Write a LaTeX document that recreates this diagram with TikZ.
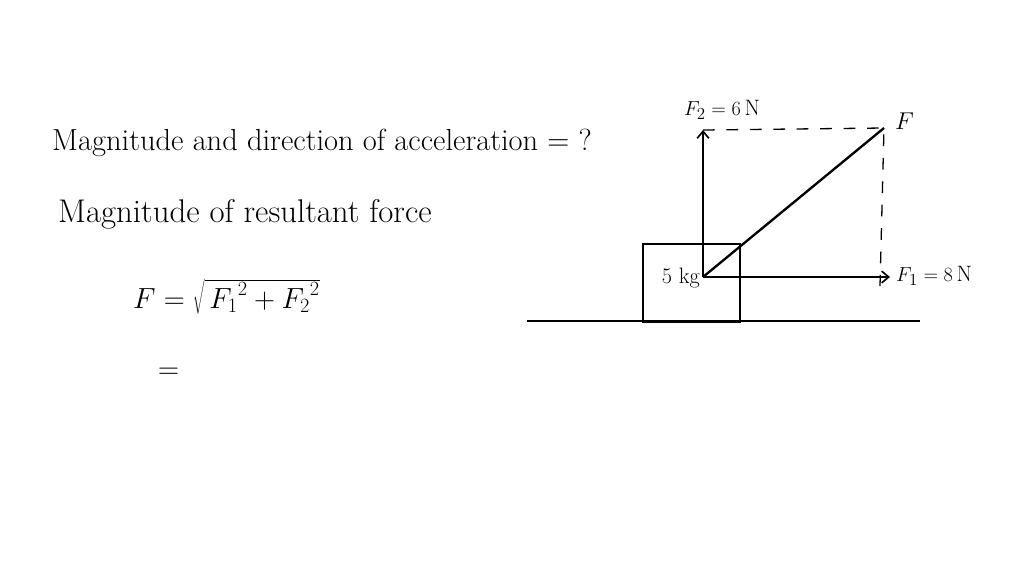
\documentclass[tikz,border=0pt]{standalone}
\usetikzlibrary{arrows.meta}
\begin{document}
\begin{tikzpicture}[x=0.03cm,y=-0.03cm,
  stroke/.style={line width=2pt,black},
  vec/.style={stroke,-{Straight Barb[length=6pt,width=10pt,line width=1.4pt]}},
  guide/.style={line width=1.1pt,dash pattern=on 10pt off 10pt},
  txt/.style={font=\fontsize{26}{30}\selectfont,inner sep=0pt},
  lbl/.style={font=\fontsize{19}{22}\selectfont,inner sep=0pt}]
\useasboundingbox (0,0) rectangle (1024,576);
% texts
\node[txt,anchor=base west] (q1) at (52,150) {Magnitude and direction of acceleration = ?};
\node[txt,anchor=base west,font=\fontsize{28}{32}\selectfont] (q2) at (58,222) {Magnitude of resultant force};
\node[txt,anchor=base west] (eq1) at (133,308) {$F=\sqrt{\,{F_1}^{2}+{F_2}^{2}}$};
\node[txt,anchor=base west] (eq2) at (158,378) {$=$};
% ground and block
\coordinate (g1) at (527,321);
\coordinate (g2) at (920,321);
\draw[stroke] (g1) -- (g2);
\node[stroke,draw,minimum width=2.91cm,minimum height=2.34cm,inner sep=0pt] (box) at (691.5,283) {};
% vectors
\coordinate (O) at (703,277);
\coordinate (T2) at (703,130);
\coordinate (T1) at (890,277);
\coordinate (TR) at (884,128);
\draw[vec] (O) -- (T2);
\draw[vec] (O) -- (T1);
\draw[stroke] (O) -- (TR);
\draw[guide] (T2) -- (TR) -- (880,286);
% labels
\node[lbl,anchor=east] (m) at (700,278) {5 kg};
\node[lbl,anchor=west] (f1) at (896,276) {$F_1=8$\,N};
\node[lbl,anchor=south] (f2) at (722,120) {$F_2=6$\,N};
\node[lbl,anchor=south west,font=\fontsize{22}{26}\selectfont] (f) at (895,130) {$F$};
\end{tikzpicture}
\end{document}
